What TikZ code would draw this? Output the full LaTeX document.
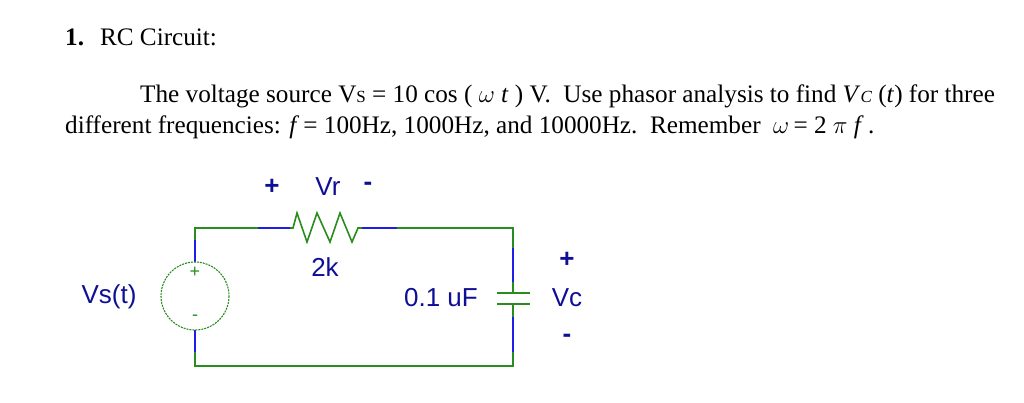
\documentclass[tikz,border=0pt]{standalone}
\usepackage{fontspec}
\setmainfont{Liberation Serif}
\newfontfamily\arial{Liberation Sans}
\begin{document}
\begin{tikzpicture}[x=1pt,y=-1pt,
  wg/.style={draw={rgb,255:red,40;green,140;blue,30},line width=1.6pt},
  wb/.style={draw={rgb,255:red,30;green,30;blue,230},line width=1.6pt},
  lab/.style={font=\arial\fontsize{26}{30}\selectfont,text={rgb,255:red,15;green,15;blue,150},inner sep=0pt},
  sgn/.style={lab,font=\arial\bfseries\fontsize{26}{30}\selectfont},
  prose/.style={font=\fontsize{25.2}{30}\selectfont,anchor=base west,inner sep=0pt}]
\useasboundingbox (0,0) rectangle (1024,402);
\node[prose] (t1) at (65,45) {\textbf{1.}\hspace{16pt}RC Circuit:};
\node[prose] (t2) at (140,102) {The voltage source V{\fontsize{17}{18}\selectfont S} = 10 cos ( $\omega$ \textit{t} ) V.\ \ Use phasor analysis to find \textit{V}{\fontsize{17}{18}\selectfont\textit{C}} (\textit{t}) for three};
\node[prose] (t3) at (65,133) {different frequencies: \textit{f}\,= 100Hz, 1000Hz, and 10000Hz.\ \ Remember \ $\omega$\,= 2 $\pi$ \textit{f}\,.};
% circuit wires
\coordinate (tl) at (195,228); \coordinate (tr) at (513,228);
\coordinate (bl) at (195,366); \coordinate (br) at (513,366);
\draw[wg] (195,240) -- (tl) -- (258,228);
\draw[wb] (195,262) -- (195,240);
\draw[wb] (258,228) -- (290,228);
\draw[wg] (290,228) -- (293,228) -- (297,213) -- (307,242) -- (317,213) -- (330,242) -- (340,213) -- (352,242) -- (358,228) -- (362,228);
\draw[wb] (362,228) -- (397,228);
\draw[wg] (397,228) -- (tr) -- (513,248);
\draw[wb] (513,248) -- (513,282);
\draw[wg] (513,282) -- (513,293);
\draw[wg] (497,293) -- (530,293);
\draw[wg] (497,304) -- (530,304);
\draw[wg] (513,304) -- (513,317);
\draw[wb] (513,317) -- (513,352);
\draw[wg] (513,352) -- (br) -- (bl) -- (195,352);
\draw[wb] (195,352) -- (195,330);
\draw[wg,dash pattern=on 2pt off 1pt,line width=1.1pt] (195,296) circle[radius=34];
\node[font=\arial\fontsize{18}{18}\selectfont,text={rgb,255:red,40;green,140;blue,30},inner sep=0] (sp) at (195,272) {+};
\node[font=\arial\fontsize{18}{18}\selectfont,text={rgb,255:red,40;green,140;blue,30},inner sep=0] (sm) at (195,318) {-};
\node[sgn] (vrp) at (272,187) {+};
\node[lab] (vr) at (328,187) {Vr};
\node[sgn] (vrm) at (368,186) {-};
\node[lab] (r) at (325,267) {2k};
\node[lab] (vs) at (109,297) {Vs(t)};
\node[lab] (c) at (441,298) {0.1 uF};
\node[sgn] (vcp) at (567,260) {+};
\node[lab] (vc) at (567,298) {Vc};
\node[sgn] (vcm) at (567,338) {-};
\end{tikzpicture}
\end{document}
